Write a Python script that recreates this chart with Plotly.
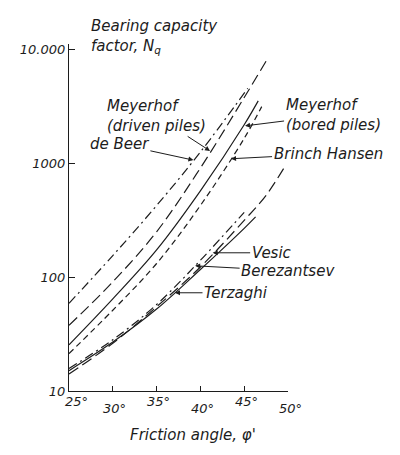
import math
import plotly.graph_objects as go

# === DATA ===
# friction angle (deg) and Nq for each author
phi_debeer = [25, 30, 35, 40, 45.4]
nq_debeer = [59, 155, 427, 1260, 4570]

phi_meyer_driven = [25, 30, 35, 40, 45, 47.5]
nq_meyer_driven = [37.8, 91, 251, 912, 3800, 7940]

phi_meyer_bored = [25, 30, 35, 40, 45, 46.6]
nq_meyer_bored = [25.5, 64.6, 174, 575, 2190, 3550]

phi_hansen = [25, 30, 35, 40, 45, 47]
nq_hansen = [21.3, 51.3, 132, 427, 1660, 3160]

phi_berez = [25, 30, 35, 40, 45]
nq_berez = [15.8, 28.2, 57.5, 141, 372]

phi_terz = [25, 30, 35, 40, 45, 46.3]
nq_terz = [15.1, 26.9, 52.5, 117, 269, 339]

phi_vesic = [25, 30, 35, 40, 45, 47.5, 49.7]
nq_vesic = [14.1, 26.3, 55, 123, 316, 525, 955]

x_ticks = [25, 30, 35, 40, 45, 50]
x_tick_text = ["25°", "30°", "35°", "40°", "45°", "50°"]
y_ticks = [10, 100, 1000, 10000]
y_tick_text = ["10", "100", "1000", "10.000"]

# === STYLE ===
ink = "#1c1c1c"
font = dict(family="DejaVu Sans", size=15, color=ink, style="italic")
dashdot = "9px,4px,2px,4px"
longdash = "11px,5px"
shortdash = "6px,4px"

fig = go.Figure()

curves = [
    (phi_debeer, nq_debeer, dashdot),
    (phi_meyer_driven, nq_meyer_driven, longdash),
    (phi_meyer_bored, nq_meyer_bored, "solid"),
    (phi_hansen, nq_hansen, shortdash),
    (phi_berez, nq_berez, dashdot),
    (phi_terz, nq_terz, "solid"),
    (phi_vesic, nq_vesic, longdash),
]
for xs, ys, dash in curves:
    fig.add_trace(go.Scatter(x=xs, y=ys, mode="lines", line_shape="spline",
                             line=dict(color=ink, width=1.2, dash=dash),
                             showlegend=False, hoverinfo="skip"))

# === LABELS WITH ARROWS ===
def label(text, phi, nq, ax, ay):
    fig.add_annotation(x=phi, y=math.log10(nq), xref="x", yref="y",
                       text=text, showarrow=True, ax=ax, ay=ay,
                       arrowhead=2, arrowsize=1, arrowwidth=1, arrowcolor=ink,
                       align="left", font=font)

label("de Beer", 39.2, 1070, -74, -16)
label("Meyerhof<br>(driven piles)", 41.1, 1290, -54, -35)
label("Meyerhof<br>(bored piles)", 45.1, 2140, 88, -11)
label("Brinch Hansen", 43.5, 1100, 97, -5)
label("Vesic", 41.4, 164, 59, 0)
label("Berezantsev", 39.4, 126, 93, 5)
label("Terzaghi", 37.1, 73, 61, 0)

# staggered x tick labels
for i, (v, t) in enumerate(zip(x_ticks, x_tick_text)):
    fig.add_annotation(x=v, y=0, xref="x", yref="paper", text=t, showarrow=False,
                       yanchor="middle", yshift=-10 if i % 2 == 0 else -17,
                       xshift=7 if i == 0 else 2, font=dict(font, size=13))

# axis titles
fig.add_annotation(x=0.09, y=1, xref="paper", yref="paper", yshift=8,
                   xanchor="left", yanchor="middle", align="left", showarrow=False,
                   text="Bearing capacity<br>factor, N<sub>q</sub>", font=font)
fig.add_annotation(x=39.15, y=0, xref="x", yref="paper", yshift=-55,
                   showarrow=False, text="Friction angle, φ'", font=font)

# === LAYOUT ===
fig.update_layout(
    width=400, height=455,
    margin=dict(l=61, r=120, t=36, b=72),
    paper_bgcolor="white", plot_bgcolor="white",
    xaxis=dict(range=[25, 50], showgrid=False, zeroline=False,
               showline=True, linecolor=ink, linewidth=1.3,
               tickmode="array", tickvals=x_ticks, showticklabels=False,
               ticks="inside", ticklen=5, tickcolor=ink),
    yaxis=dict(type="log", range=[1, 4.05], showgrid=False, zeroline=False,
               showline=True, linecolor=ink, linewidth=1.3,
               tickmode="array", tickvals=y_ticks, ticktext=y_tick_text,
               ticks="inside", ticklen=6, tickcolor=ink,
               tickfont=dict(font, size=13)),
)

fig.write_html("out.html")
